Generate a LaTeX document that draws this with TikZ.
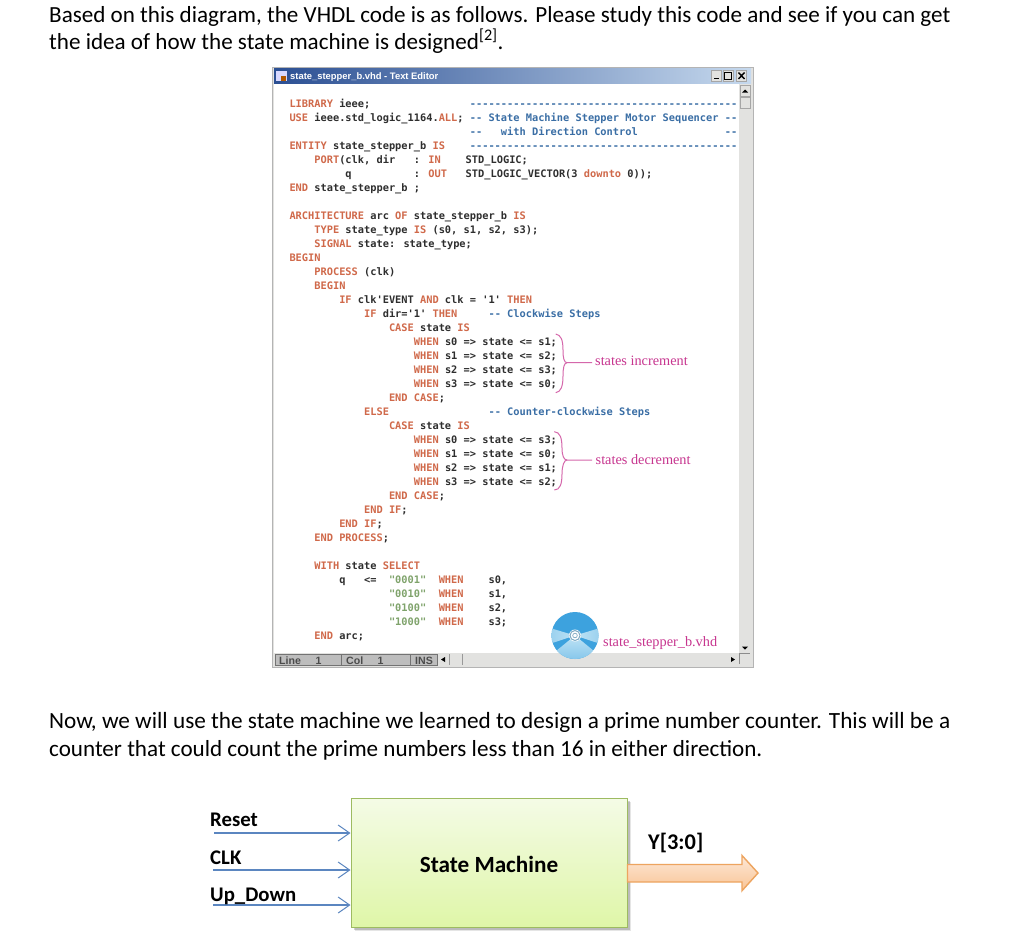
\documentclass[tikz,border=0pt]{standalone}
\usepackage{fontspec}
\setmainfont{Carlito}
\newfontfamily\codefam{DejaVu Sans Mono}
\newfontfamily\serfam{Liberation Serif}
\newfontfamily\uifam{Liberation Sans}
\usetikzlibrary{arrows.meta,calc}
\definecolor{kw}{HTML}{D0694A}
\definecolor{cmt}{HTML}{3A6EA5}
\definecolor{strg}{HTML}{7FA36B}
\definecolor{ink}{HTML}{2E2E2E}
\definecolor{pinktxt}{HTML}{C7358F}
\definecolor{inblue}{HTML}{5B86C0}
\definecolor{winedge}{HTML}{B4B4B4}
\definecolor{barbg}{HTML}{E2E2E0}
\definecolor{statusbg}{HTML}{BDBDBD}
\definecolor{discblue}{HTML}{3DA2DE}
\definecolor{disclight}{HTML}{BFE3F5}
\newlength\cw
\setlength\cw{6.22pt}
\newcommand{\codefont}{\codefam\bfseries\fontsize{10.33}{14}\selectfont}
\newcommand{\gap}[1]{\hspace*{#1\cw}}
\newcommand{\K}[1]{\textcolor{kw}{#1}}
\newcommand{\Cm}[1]{\textcolor{cmt}{#1}}
\newcommand{\St}[1]{\textcolor{strg}{#1}}
\newcommand{\cl}[2]{\node[codeline] (L#1) at (289.3,{107+14*#1}) {#2};}
\newcommand{\dashrule}{\Cm{-------------------------------------------}}
\tikzset{
  x=1pt,y=-1pt,
  codeline/.style={anchor=base west,inner sep=0pt,text=ink,font=\codefont},
  bodytext/.style={anchor=base west,inner sep=0pt,font=\fontsize{23.1}{26}\selectfont,text=black},
  pinklabel/.style={anchor=base west,inner sep=0pt,text=pinktxt,font=\serfam\fontsize{14.3}{16}\selectfont},
  pinkline/.style={draw=pinktxt!75,line width=1pt},
  sigarrow/.style={draw=inblue,line width=1.1pt,-{Straight Barb[length=11.5pt,width=16pt,line width=1pt]}},
  siglabel/.style={anchor=base west,inner sep=0pt,font=\bfseries\fontsize{20.8}{24}\selectfont},
  statustext/.style={anchor=base west,inner sep=0pt,font=\uifam\bfseries\fontsize{10.6}{12}\selectfont,text=black!70},
  statusbox/.style={draw=black!55,line width=0.7pt,fill=statusbg,anchor=west,inner sep=0pt,minimum height=11pt},
  winbtn/.style={draw=black!35,fill=barbg,line width=0.5pt,inner sep=0pt,minimum width=10pt,minimum height=10.5pt},
}
\begin{document}
\begin{tikzpicture}
\useasboundingbox (0,0) rectangle (1024,943);
\fill[white] (0,0) rectangle (1024,943);
% body text
\node[bodytext] (t1) at (49,22) {Based on this diagram, the VHDL code is as follows. Please study this code and see if you can get};
\node[bodytext] (t2) at (49,49.5) {the idea of how the state machine is designed\textsuperscript{[2]}.};
\node[bodytext,font=\fontsize{23.23}{26}\selectfont] (t3) at (49,728) {Now, we will use the state machine we learned to design a prime number counter. This will be a};
\node[bodytext] (t4) at (49,756) {counter that could count the prime numbers less than 16 in either direction.};
% window
\fill[barbg] (272,67) rectangle (753,667);
\fill[white] (274,83) rectangle (739,653);
\draw[winedge,line width=1pt] (272,67) rectangle (753,667);
\shade[left color={rgb,255:red,43;green,79;blue,147},right color={rgb,255:red,198;green,217;blue,238}] (274,68.5) rectangle (751,83);
\node[anchor=base west,inner sep=0pt,text=white,font=\uifam\bfseries\fontsize{9.4}{10}\selectfont] (title) at (290,79.5) {state\_stepper\_b.vhd - Text Editor};
\fill[blue!15!white] (276,71) rectangle (287,81);
\fill[orange!70!black] (281,76) rectangle (286,81);
\node[winbtn] (bmin) at (716.5,75.5) {};
\fill[black] (713.5,78) rectangle (719,79.2);
\node[winbtn] (bmax) at (728,75.5) {};
\draw[black,line width=.8pt] (724.5,72.5) rectangle (731.5,79);
\node[winbtn] (bclose) at (741.5,75.5) {};
\draw[black,line width=1.4pt] (738.5,72.5) -- (744.5,79) (744.5,72.5) -- (738.5,79);
% code
\cl{0}{\K{LIBRARY} ieee;\gap{16}\dashrule}
\cl{1}{\K{USE} ieee.std\_logic\_1164.\K{ALL}; \Cm{-- State Machine Stepper Motor Sequencer --}}
\cl{2}{\gap{29}\Cm{--\gap{3}with Direction Control\gap{14}--}}
\cl{3}{\K{ENTITY} state\_stepper\_b \K{IS}\gap{4}\dashrule}
\cl{4}{\gap{4}\K{PORT}(clk, dir\gap{3}: \K{IN}\gap{4}STD\_LOGIC;}
\cl{5}{\gap{9}q\gap{10}: \K{OUT}\gap{3}STD\_LOGIC\_VECTOR(3 \K{downto} 0));}
\cl{6}{\K{END} state\_stepper\_b ;}
\cl{8}{\K{ARCHITECTURE} arc \K{OF} state\_stepper\_b \K{IS}}
\cl{9}{\gap{4}\K{TYPE} state\_type \K{IS} (s0, s1, s2, s3);}
\cl{10}{\gap{4}\K{SIGNAL} state: state\_type;}
\cl{11}{\K{BEGIN}}
\cl{12}{\gap{4}\K{PROCESS} (clk)}
\cl{13}{\gap{4}\K{BEGIN}}
\cl{14}{\gap{8}\K{IF} clk'EVENT \K{AND} clk = '1' \K{THEN}}
\cl{15}{\gap{12}\K{IF} dir='1' \K{THEN}\gap{5}\Cm{-- Clockwise Steps}}
\cl{16}{\gap{16}\K{CASE} state \K{IS}}
\cl{17}{\gap{20}\K{WHEN} s0 => state <= s1;}
\cl{18}{\gap{20}\K{WHEN} s1 => state <= s2;}
\cl{19}{\gap{20}\K{WHEN} s2 => state <= s3;}
\cl{20}{\gap{20}\K{WHEN} s3 => state <= s0;}
\cl{21}{\gap{16}\K{END CASE};}
\cl{22}{\gap{12}\K{ELSE}\gap{16}\Cm{-- Counter-clockwise Steps}}
\cl{23}{\gap{16}\K{CASE} state \K{IS}}
\cl{24}{\gap{20}\K{WHEN} s0 => state <= s3;}
\cl{25}{\gap{20}\K{WHEN} s1 => state <= s0;}
\cl{26}{\gap{20}\K{WHEN} s2 => state <= s1;}
\cl{27}{\gap{20}\K{WHEN} s3 => state <= s2;}
\cl{28}{\gap{16}\K{END CASE};}
\cl{29}{\gap{12}\K{END IF};}
\cl{30}{\gap{8}\K{END IF};}
\cl{31}{\gap{4}\K{END PROCESS};}
\cl{33}{\gap{4}\K{WITH} state \K{SELECT}}
\cl{34}{\gap{8}q\gap{3}<=\gap{2}\St{"0001"}\gap{2}\K{WHEN}\gap{4}s0,}
\cl{35}{\gap{16}\St{"0010"}\gap{2}\K{WHEN}\gap{4}s1,}
\cl{36}{\gap{16}\St{"0100"}\gap{2}\K{WHEN}\gap{4}s2,}
\cl{37}{\gap{16}\St{"1000"}\gap{2}\K{WHEN}\gap{4}s3;}
\cl{38}{\gap{4}\K{END} arc;}
% braces
\draw[pinkline] (555.7,334) .. controls (561,335) and (563,340) .. (563,350) .. controls (563,358) and (564,362.7) .. (567,362.7) -- (592,362.7);
\draw[pinkline] (555.7,392.7) .. controls (561,392) and (563,386) .. (563,376) .. controls (563,368) and (564,362.7) .. (567,362.7);
\node[pinklabel] (inc) at (595,365) {states increment};
\draw[pinkline] (554.3,431.7) .. controls (560,432) and (562,438) .. (562,448) .. controls (562,456) and (564,460) .. (567,460) -- (592,460);
\draw[pinkline] (554.3,490) .. controls (560,490) and (562,484) .. (562,474) .. controls (562,466) and (564,460) .. (567,460);
\node[pinklabel] (dec) at (595.5,464) {states decrement};
% scrollbar
\node[winbtn] (sup) at (745,90.5) {};
\fill[black] (742,92.5) -- (748,92.5) -- (745,89.5) -- cycle;
\node[winbtn,minimum height=11.5pt] (sthumb) at (745,102.5) {};
\node[winbtn,draw=none] (sdown) at (745,648) {};
\fill[black] (742,646.5) -- (748,646.5) -- (745,649.5) -- cycle;
% status bar
\node[statusbox,minimum width=66pt] (sb1) at (275,659.5) {};
\node[statusbox,minimum width=69pt] (sb2) at (341,659.5) {};
\node[statusbox,minimum width=27pt] (sb3) at (410,659.5) {};
\node[statustext] (ln) at (279,664.5) {Line};
\node[statustext] (ln1) at (315.5,664.5) {1};
\node[statustext] (cl) at (346,664.5) {Col};
\node[statustext] (cl1) at (377.5,664.5) {1};
\node[statustext] (ins) at (415,664.5) {INS};
\fill[black] (441,659.5) -- (445,657) -- (445,662) -- cycle;
\draw[black!40,line width=.6pt] (449,654) -- (449,665);
\draw[black!40,line width=.6pt] (462,654) -- (462,665);
\fill[black] (731,657) -- (735,659.5) -- (731,662) -- cycle;
\draw[black!45,line width=.8pt] (739,664) -- (739,653.5) -- (750,653.5);
% disc
\begin{scope}
\clip (575,635.5) circle (23.5);
\fill[discblue] (550,610) rectangle (600,660);
\shade[left color=disclight!60!discblue,right color=disclight] (575,635.5) -- (540,625) -- (540,647) -- cycle;
\shade[right color=disclight!60!discblue,left color=disclight] (575,635.5) -- (610,625) -- (610,647) -- cycle;
\shade[top color=disclight,middle color=white,bottom color=disclight!55!discblue] (575,635.5) -- (545,660) -- (605,660) -- cycle;
\end{scope}
\fill[white] (575,635.5) circle (6);
\draw[discblue!70!black!60!white,line width=1pt] (575,635.5) circle (5);
\draw[discblue!70!black!60!white,line width=.7pt] (575,635.5) circle (2.3);
\node[pinklabel] (file) at (603,646.5) {state\_stepper\_b.vhd};
% block
\foreach \o/\a in {1/0.25,2.5/0.18,4/0.10}{\fill[black,opacity=\a] (351+\o,798+\o) rectangle (627+\o,927+\o);}
\node[draw={rgb,255:red,157;green,187;blue,97},line width=1pt,top color={rgb,255:red,244;green,251;blue,230},bottom color={rgb,255:red,223;green,246;blue,168},minimum width=276pt,minimum height=129pt,inner sep=0pt] (sm) at (489,862.5) {};
\node[inner sep=0pt,font=\bfseries\fontsize{23.2}{26}\selectfont] (smtext) at (489,864) {State Machine};
\coordinate (r0) at (214,833);
\coordinate (c0) at (213,870);
\coordinate (u0) at (213,905);
\draw[sigarrow] (r0) -- (r0-|sm.west);
\draw[sigarrow] (c0) -- (c0-|sm.west);
\draw[sigarrow] (u0) -- (u0-|sm.west);
\node[siglabel] (lr) at (210,826) {Reset};
\node[siglabel] (lc) at (210,864) {CLK};
\node[siglabel] (lu) at (210,901) {Up\_Down};
\node[siglabel,font=\bfseries\fontsize{22.4}{24}\selectfont] (ly) at (648,849) {Y[3:0]};
\draw[draw={rgb,255:red,237;green,164;blue,95},line width=1.4pt,top color={rgb,255:red,253;green,232;blue,214},bottom color={rgb,255:red,248;green,196;blue,150}]
  (sm.east|-0,864.5) -- (742,864.5) -- (742,855.5) -- (758,873) -- (742,890.7) -- (742,882) -- (sm.east|-0,882) -- cycle;
\end{tikzpicture}
\end{document}
